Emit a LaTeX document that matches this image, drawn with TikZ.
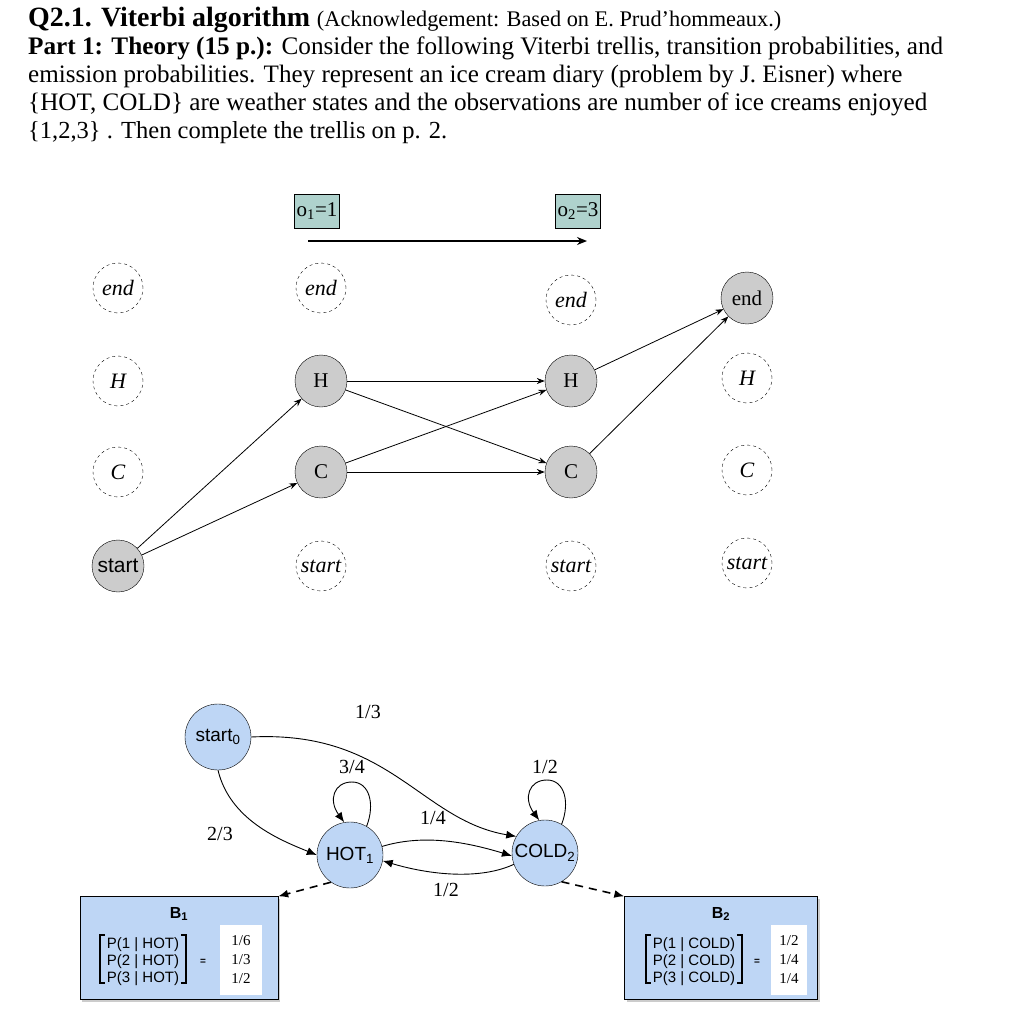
\documentclass[tikz,border=0pt]{standalone}
\usepackage{fontspec}
\setmainfont{Liberation Serif}
\setsansfont{Liberation Sans}
\usepackage{graphicx}
\usetikzlibrary{arrows.meta,shadows}
\definecolor{lb}{RGB}{190,214,245}
\definecolor{ob}{RGB}{175,210,205}
\begin{document}
\begin{tikzpicture}[x=1pt,y=-1pt,
 dc/.style={circle,draw,dashed,minimum size=50pt,inner sep=0pt,font=\fontsize{22}{22}\selectfont\itshape},
 gc/.style={circle,draw,fill=gray!40,minimum size=52pt,inner sep=0pt,font=\fontsize{21}{21}\selectfont},
 ar/.style={-{Stealth[length=8pt,width=6pt]},thick},
 bc/.style={circle,draw,fill=lb,minimum size=66pt,inner sep=0pt,font=\sffamily\fontsize{19}{19}\selectfont},
 ba/.style={-{Latex[length=10pt,width=8pt]},line width=0.9pt},
 lbl/.style={font=\fontsize{20}{20}\selectfont},
 hl/.style={anchor=base west,inner sep=0pt},
 obox/.style={draw,fill=ob,minimum height=34pt,inner sep=2pt,font=\fontsize{21}{21}\selectfont},
 bbox/.style={draw,fill=lb,drop shadow={shadow xshift=2pt,shadow yshift=-2pt,opacity=.4}},
 brk/.style={line width=2pt},
 mt/.style={font=\sffamily\fontsize{15}{17}\selectfont,align=left,inner sep=0pt}]
\useasboundingbox (0,0) rectangle (1009,1024);
\fill[white] (0,0) rectangle (1009,1024);
% header
\node[hl] (h1) at (28,27) {\resizebox{753pt}{!}{\textbf{Q2.1. Viterbi algorithm} {\footnotesize(Acknowledgement: Based on E. Prud’hommeaux.)}}};
\node[hl] (h2) at (28,55) {\resizebox{915pt}{!}{\textbf{Part 1: Theory (15 p.):} Consider the following Viterbi trellis, transition probabilities, and}};
\node[hl] (h3) at (28,83) {\resizebox{874pt}{!}{emission probabilities. They represent an ice cream diary (problem by J. Eisner) where}};
\node[hl] (h4) at (28,111) {\resizebox{899pt}{!}{\{HOT, COLD\} are weather states and the observations are number of ice creams enjoyed}};
\node[hl] (h5) at (28,139) {\resizebox{419pt}{!}{\{1,2,3\} . Then complete the trellis on p. 2.}};
% obs boxes
\node[obox] (o1) at (317,211) {o\textsubscript{1}=1};
\node[obox] (o2) at (578,211) {o\textsubscript{2}=3};
\coordinate (ta) at (308,241); \coordinate (tb) at (587,241);
\draw[-{Stealth[length=10pt,width=8pt]},line width=1.8pt] (ta) -- (tb);
% trellis
\node[dc] (e0) at (118,288) {end};
\node[dc] (h0) at (118,381) {H};
\node[dc] (c0) at (118,472) {C};
\node[gc] (s0) at (118,566) {\sffamily start};
\node[dc] (e1) at (321,288) {end};
\node[gc] (h1n) at (321,381) {H};
\node[gc] (c1) at (321,472) {C};
\node[dc] (s1) at (321,566) {start};
\node[dc] (e2) at (571,300) {end};
\node[gc] (h2n) at (571,381) {H};
\node[gc] (c2) at (571,472) {C};
\node[dc] (s2) at (571,566) {start};
\node[gc] (e3) at (747,298) {end};
\node[dc] (h3n) at (747,378) {H};
\node[dc] (c3) at (747,470) {C};
\node[dc] (s3) at (747,563) {start};
\draw[ar] (s0) -- (h1n);
\draw[ar] (s0) -- (c1);
\draw[ar] (h1n) -- (h2n);
\draw[ar] (h1n) -- (c2);
\draw[ar] (c1) -- (h2n);
\draw[ar] (c1) -- (c2);
\draw[ar] (h2n) -- (e3);
\draw[ar] (c2) -- (e3);
% HMM
\node[bc] (st) at (218,737) {start\textsubscript{0}};
\node[bc] (hot) at (350,855) {HOT\textsubscript{1}};
\node[bc] (cold) at (545,853) {COLD\textsubscript{2}};
\draw[ba] (st.east) .. controls (390,730) and (420,820) .. (cold.150);
\draw[ba] (st.south) .. controls (230,820) and (280,840) .. (hot.west);
\draw[ba] (hot.60) .. controls (375,805) and (370,782) .. (352,782) .. controls (334,782) and (328,800) .. (hot.100);
\draw[ba] (cold.60) .. controls (570,803) and (565,780) .. (547,780) .. controls (529,780) and (523,798) .. (cold.100);
\draw[ba] (hot.15) .. controls (420,835) and (460,840) .. (cold.185);
\draw[ba] (cold.200) .. controls (480,880) and (430,875) .. (hot.350);
\node[lbl] (l1) at (368,712) {1/3};
\node[lbl] (l2) at (352,767) {3/4};
\node[lbl] (l3) at (545,767) {1/2};
\node[lbl] (l4) at (433,818) {1/4};
\node[lbl] (l5) at (220,834) {2/3};
\node[lbl] (l6) at (446,890) {1/2};
% boxes
\node[bbox,minimum width=198pt,minimum height=103pt] (B1) at (179,948) {};
\node[bbox,minimum width=193pt,minimum height=103pt] (B2) at (721,948) {};
\draw[ba,dash pattern=on 8pt off 6pt,line width=1.6pt] (hot.235) -- (B1.north east);
\draw[ba,dash pattern=on 8pt off 6pt,line width=1.6pt] (cold.300) -- (B2.north west);
\node[font=\sffamily\bfseries\fontsize{16}{16}\selectfont] (b1t) at (179,914) {B\textsubscript{1}};
\node[mt] (b1m) at (143,962) {P(1 | HOT)\\P(2 | HOT)\\P(3 | HOT)};
\draw[brk] (b1m.north west) ++(-2,-3) -- ++(-5,0) |- ([xshift=-2pt,yshift=3pt]b1m.south west);
\draw[brk] (b1m.north east) ++(2,-3) -- ++(5,0) |- ([xshift=2pt,yshift=3pt]b1m.south east);
\node[font=\sffamily\bfseries] (b1e) at (203,962) {=};
\node[fill=white,minimum width=42pt,minimum height=70pt,align=center,font=\fontsize{15}{19}\selectfont] (b1v) at (241,960) {1/6\\1/3\\1/2};
\node[font=\sffamily\bfseries\fontsize{16}{16}\selectfont] (b2t) at (721,914) {B\textsubscript{2}};
\node[mt] (b2m) at (694,962) {P(1 | COLD)\\P(2 | COLD)\\P(3 | COLD)};
\draw[brk] (b2m.north west) ++(-2,-3) -- ++(-5,0) |- ([xshift=-2pt,yshift=3pt]b2m.south west);
\draw[brk] (b2m.north east) ++(2,-3) -- ++(5,0) |- ([xshift=2pt,yshift=3pt]b2m.south east);
\node[font=\sffamily\bfseries] (b2e) at (757,962) {=};
\node[fill=white,minimum width=36pt,minimum height=70pt,align=center,font=\fontsize{15}{19}\selectfont] (b2v) at (789,960) {1/2\\1/4\\1/4};
\end{tikzpicture}
\end{document}
